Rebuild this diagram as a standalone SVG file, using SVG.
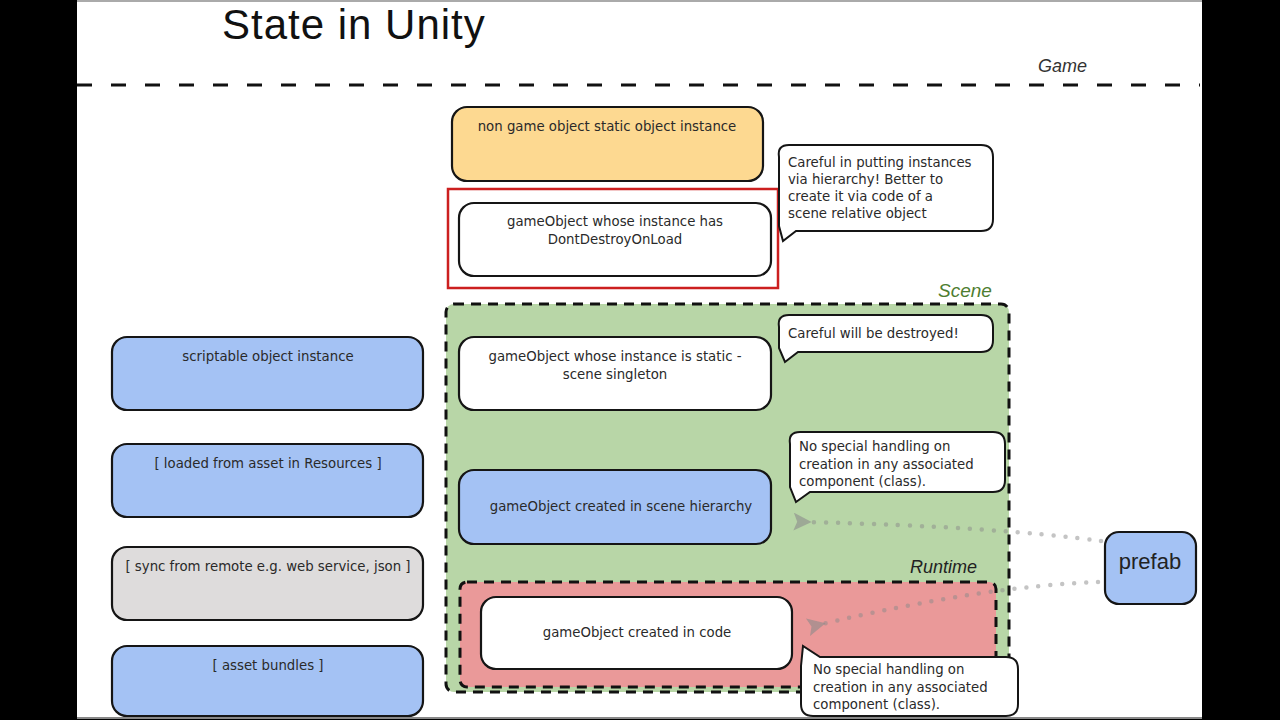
<svg xmlns="http://www.w3.org/2000/svg" width="1280" height="720" viewBox="0 0 1280 720">
<defs>
<style>
.box{stroke:#151515;stroke-width:2.2}
.blue{fill:#a4c2f4}
.white{fill:#ffffff}
.yellow{fill:#fdd991}
.grey{fill:#dedcdc}
.lbl{font-family:"DejaVu Sans","Liberation Sans",Arial,sans-serif;font-size:13.3px;fill:#2a2a2a}
.mid{text-anchor:middle}
.call{fill:#fff;stroke:#151515;stroke-width:2}
.region{stroke:#111;stroke-width:3;stroke-dasharray:10 7}
.ital{font-family:"Liberation Sans",Arial,sans-serif;font-style:italic}
.dots{fill:none;stroke:#8a8a8a;stroke-opacity:0.5;stroke-width:4.5;stroke-linecap:round;stroke-dasharray:0 12}
</style>
<marker id="ah" viewBox="0 0 10 10" refX="2" refY="5" markerWidth="4" markerHeight="4" orient="auto-start-reverse" markerUnits="strokeWidth">
<path d="M0 5 L10 0 L8 5 L10 10 Z" fill="#8a8a8a" fill-opacity="0.6"/>
</marker>
</defs>
<rect x="0" y="0" width="1280" height="720" fill="#000"/>
<rect x="77" y="1" width="1125" height="716" fill="#fff"/>
<line x1="77" y1="1" x2="1202" y2="1" stroke="#aaa" stroke-width="2"/>
<line x1="77" y1="718" x2="1202" y2="718" stroke="#888" stroke-width="2"/>

<g id="title">
<text x="222" y="39" font-family="Liberation Sans, Arial, sans-serif" font-size="42" letter-spacing="1" fill="#111">State in Unity</text>
</g>
<g id="game-boundary">
<line x1="77" y1="85" x2="1200" y2="85" stroke="#111" stroke-width="3" stroke-dasharray="15 19"/>
<text class="ital" x="1038" y="72" font-size="18" fill="#333">Game</text>
</g>

<g id="scene-region">
<rect class="region" x="446" y="304" width="563" height="388" rx="8" fill="#b8d6a7"/>
<text class="ital" x="938" y="297" font-size="19" fill="#4e7d30">Scene</text>
</g>
<g id="runtime-region">
<rect class="region" x="460" y="582" width="536" height="105" rx="7" fill="#ea9999"/>
<text class="ital" x="910" y="573" font-size="18" fill="#222">Runtime</text>
</g>

<g id="non-game-object">
<rect class="box yellow" x="452" y="107" width="311" height="74" rx="15"/>
<text class="lbl mid" x="607" y="131">non game object static object instance</text>
</g>
<g id="dontdestroy-highlight">
<rect x="448" y="189" width="330" height="99" fill="none" stroke="#cc1f1f" stroke-width="2.5"/>
</g>
<g id="dontdestroy">
<rect class="box white" x="459" y="203" width="312" height="73" rx="15"/>
<text class="lbl mid" x="615" y="226">gameObject whose instance has</text>
<text class="lbl mid" x="615" y="244">DontDestroyOnLoad</text>
</g>
<g id="scene-singleton">
<rect class="box white" x="459" y="337" width="312" height="73" rx="15"/>
<text class="lbl mid" x="615" y="361">gameObject whose instance is static -</text>
<text class="lbl mid" x="615" y="379">scene singleton</text>
</g>
<g id="scene-hierarchy">
<rect class="box blue" x="459" y="470" width="312" height="74" rx="15"/>
<text class="lbl mid" x="621" y="511">gameObject created in scene hierarchy</text>
</g>
<g id="created-in-code">
<rect class="box white" x="481" y="597" width="311" height="72" rx="15"/>
<text class="lbl mid" x="637" y="637">gameObject created in code</text>
</g>

<g id="scriptable-object">
<rect class="box blue" x="112" y="337" width="311" height="73" rx="15"/>
<text class="lbl mid" x="268" y="361">scriptable object instance</text>
</g>
<g id="resources">
<rect class="box blue" x="112" y="444" width="311" height="73" rx="15"/>
<text class="lbl mid" x="268" y="468">[ loaded from asset in Resources ]</text>
</g>
<g id="remote-sync">
<rect class="box grey" x="112" y="547" width="311" height="73" rx="15"/>
<text class="lbl mid" x="268" y="571">[ sync from remote e.g. web service, json ]</text>
</g>
<g id="asset-bundles">
<rect class="box blue" x="112" y="646" width="311" height="70" rx="15"/>
<text class="lbl mid" x="268" y="670">[ asset bundles ]</text>
</g>

<g id="prefab">
<rect class="box blue" x="1105" y="532" width="91" height="72" rx="14"/>
<text x="1150" y="569" text-anchor="middle" font-family="Liberation Sans, Arial, sans-serif" font-size="22" fill="#222">prefab</text>
</g>

<g id="connectors">
<path class="dots" d="M1101 541 Q1000 527 808 522" marker-end="url(#ah)"/>
<path class="dots" d="M1098 582 Q985 586 822 624" marker-end="url(#ah)"/>
</g>

<g id="note-hierarchy">
<path class="call" d="M789 145 H981 Q993 145 993 157 V219 Q993 231 981 231 H796 L783 241 L779 226 V157 Q777 145 789 145 Z"/>
<text class="lbl" x="788" y="167">Careful in putting instances</text>
<text class="lbl" x="788" y="184">via hierarchy! Better to</text>
<text class="lbl" x="788" y="201">create it via code of a</text>
<text class="lbl" x="788" y="218">scene relative object</text>
</g>
<g id="note-destroyed">
<path class="call" d="M789 315 H981 Q993 315 993 327 V340 Q993 352 981 352 H798 L785 362 L779 348 V327 Q777 315 789 315 Z"/>
<text class="lbl" x="788" y="338">Careful will be destroyed!</text>
</g>
<g id="note-scene-creation">
<path class="call" d="M800 432 H993 Q1005 432 1005 444 V480 Q1005 492 993 492 H810 L796 502 L790 487 V444 Q788 432 800 432 Z"/>
<text class="lbl" x="799" y="451">No special handling on</text>
<text class="lbl" x="799" y="469">creation in any associated</text>
<text class="lbl" x="799" y="486">component (class).</text>
</g>
<g id="note-code-creation">
<path class="call" d="M820 657 H1006 Q1018 657 1018 669 V704 Q1018 716 1006 716 H813 Q801 716 801 704 V666 L803 646 Z"/>
<text class="lbl" x="813" y="674">No special handling on</text>
<text class="lbl" x="813" y="692">creation in any associated</text>
<text class="lbl" x="813" y="709">component (class).</text>
</g>
</svg>
